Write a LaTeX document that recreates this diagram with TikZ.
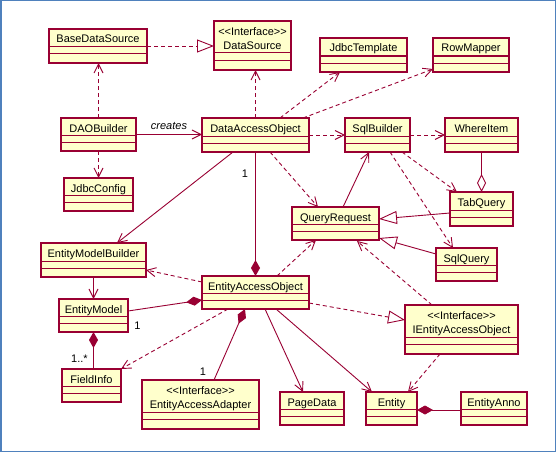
\documentclass[tikz,border=0pt]{standalone}
\usepackage{fontspec}
\setmainfont{Liberation Sans}
\usetikzlibrary{arrows.meta,calc}
\definecolor{lc}{HTML}{990033}
\definecolor{bf}{HTML}{FFFFCC}
\definecolor{frame}{HTML}{4F81BD}
\tikzset{
  clsbox/.style={draw=lc, fill=bf, line width=1.2pt, rectangle, inner sep=0pt, outer sep=0pt},
  clsline/.style={draw=lc, line width=1pt},
  clstext/.style={anchor=base, inner sep=0pt, font=\fontsize{11}{13}\selectfont},
  mult/.style={anchor=base, inner sep=0pt, font=\fontsize{11}{13}\selectfont},
  conn/.style={draw=lc, line width=0.9pt},
  dsh/.style={conn, dash pattern=on 4pt off 3pt},
  vhead/.style={-{Straight Barb[length=9pt,width=9pt]}},
  dep/.style={dsh, vhead},
  assoc/.style={conn, vhead},
  real/.style={dsh, -{Triangle[open,length=17pt,width=13pt]}},
  gen/.style={conn, -{Triangle[open,length=18pt,width=13pt]}},
  comp/.style={conn, -{Diamond[length=16pt,width=9pt]}},
  aggr/.style={conn, -{Diamond[open,length=18pt,width=9pt]}},
}
\newcommand\umlclass[6]{%
  \node[clsbox, minimum width={(#4-#2)*1pt}, minimum height={(#5-#3)*1pt}] (#1) at ({(#2+#4)/2},{(#3+#5)/2}) {};
  \draw[clsline] ($(#1.south west)+(0,-16)$) -- ($(#1.south east)+(0,-16)$)
                 ($(#1.south west)+(0,-9)$) -- ($(#1.south east)+(0,-9)$);
  \node[clstext] (#1-t) at ({(#2+#4)/2},{#3+14}) {#6};
}
\newcommand\umlinterface[7]{%
  \node[clsbox, minimum width={(#4-#2)*1pt}, minimum height={(#5-#3)*1pt}] (#1) at ({(#2+#4)/2},{(#3+#5)/2}) {};
  \draw[clsline] ($(#1.south west)+(0,-17)$) -- ($(#1.south east)+(0,-17)$)
                 ($(#1.south west)+(0,-10)$) -- ($(#1.south east)+(0,-10)$);
  \node[clstext] (#1-s) at ({(#2+#4)/2},{#3+14.5}) {#6};
  \node[clstext] (#1-t) at ({(#2+#4)/2},{#3+28}) {#7};
}
\begin{document}
\begin{tikzpicture}[x=1pt,y=-1pt]
\useasboundingbox (0,0) rectangle (556,452);
\fill[white] (0,0) rectangle (556,452);
\draw[frame, line width=1.5pt] (0.75,0.75) rectangle (555.25,451.25);

% classes
\umlclass{bds}{49}{29}{147}{63}{BaseDataSource}
\umlinterface{ds}{214}{21}{291}{70}{<{}<Interface>{}>}{DataSource}
\umlclass{daob}{61}{118}{136}{151}{DAOBuilder}
\umlclass{jc}{64}{178}{133}{211}{JdbcConfig}
\umlclass{dao}{202}{118}{309}{152}{DataAccessObject}
\umlclass{jt}{320}{38}{407}{72}{JdbcTemplate}
\umlclass{rm}{433}{38}{509}{72}{RowMapper}
\umlclass{sb}{345}{118}{410}{152}{SqlBuilder}
\umlclass{wi}{445}{118}{518}{152}{WhereItem}
\umlclass{tq}{450}{192}{513}{226}{TabQuery}
\umlclass{qr}{292}{207}{379}{240}{QueryRequest}
\umlclass{sq}{436}{248}{497}{281}{SqlQuery}
\umlclass{emb}{41}{243}{146}{277}{EntityModelBuilder}
\umlclass{eao}{202}{276}{309}{309}{EntityAccessObject}
\umlclass{em}{59}{299}{128}{332}{EntityModel}
\umlclass{fi}{62}{369}{121}{402}{FieldInfo}
\umlinterface{eaa}{142}{380}{259}{429}{<{}<Interface>{}>}{EntityAccessAdapter}
\umlinterface{ieao}{405}{305}{518}{354}{<{}<Interface>{}>}{IEntityAccessObject}
\umlclass{pd}{280}{392}{344}{425}{PageData}
\umlclass{ent}{366}{392}{417}{425}{Entity}
\umlclass{ea}{461}{392}{527}{425}{EntityAnno}

% connectors
\draw[real] (bds.east) -- (bds.east -| ds.west);
\draw[dep] (daob.north) -- (daob.north |- bds.south);
\draw[dep] (daob.south) -- (daob.south |- jc.north);
\draw[assoc] (daob.east) -- (daob.east -| dao.west)
  node[midway, above=4pt, inner sep=0pt, font=\fontsize{11}{13}\selectfont\itshape] (creates) {creates};
\draw[dep] (dao.north) -- (dao.north |- ds.south);
\draw[dep] ($(dao.north west)+(78,0)$) -- ($(jt.south west)+(20,0)$);
\draw[dep] ($(dao.north east)+(-6,0)$) -- ($(rm.south west)+(0,-3)$);
\draw[dep] (dao.east) -- (dao.east -| sb.west);
\draw[dep] ($(dao.south west)+(68,0)$) -- ($(qr.north west)+(26,0)$);
\draw[assoc] ($(dao.south west)+(31,0)$) -- ($(emb.north west)+(76,0)$);
\draw[comp] (dao.south) -- (eao.north);
\node[mult] (m1) at (245,177) {1};
\draw[dep] (sb.east) -- (sb.east -| wi.west);
\draw[dep] ($(sb.south east)+(-8,0)$) -- ($(tq.north west)+(7,0)$);
\draw[dep] ($(sb.south west)+(45,0)$) -- ($(sq.north west)+(17,0)$);
\draw[assoc] ($(qr.north west)+(51,0)$) -- ($(sb.south west)+(24,0)$);
\draw[aggr] (wi.south) -- (tq.north);
\draw[gen] ($(tq.west)+(0,4)$) -- ($(qr.east)+(0,-4.5)$);
\draw[gen] ($(sq.west)+(0,-10.5)$) -- ($(qr.south east)+(0,-2)$);
\draw[dep] ($(ieao.north west)+(27,0)$) -- ($(qr.south east)+(-22,1)$);
\draw[dep] ($(eao.north east)+(-32,0)$) -- ($(qr.south west)+(24,0)$);
\draw[dep] ($(eao.north west)+(0,6)$) -- ($(emb.south east)+(0,-7)$);
\draw[comp] ($(em.east)+(0,-4.5)$) -- ($(eao.west)+(0,7.5)$);
\node[mult] (m2) at (137.5,329) {1};
\draw[assoc] (emb.south) -- (em.north);
\draw[comp] (fi.north -| em.south) -- (em.south);
\node[mult] (m3) at (79.5,362.5) {1..*};
\draw[dep] ($(eao.south west)+(26,0)$) -- (fi.north east);
\draw[comp] ($(eaa.north west)+(72,0)$) -- ($(eao.south west)+(43,0)$);
\node[mult] (m4) at (203,375.5) {1};
\draw[real] ($(eao.east)+(0,10.5)$) -- ($(ieao.west)+(0,-9.5)$);
\draw[assoc] ($(eao.south west)+(63,0)$) -- ($(pd.north west)+(23,0)$);
\draw[assoc] ($(eao.south west)+(74,0)$) -- ($(ent.north west)+(6,0)$);
\draw[dep] ($(ieao.south west)+(35,0)$) -- ($(ent.north east)+(-9,0)$);
\draw[comp] ($(ea.west)+(0,1.5)$) -- ($(ent.east)+(0,1.5)$);
\end{tikzpicture}
\end{document}
